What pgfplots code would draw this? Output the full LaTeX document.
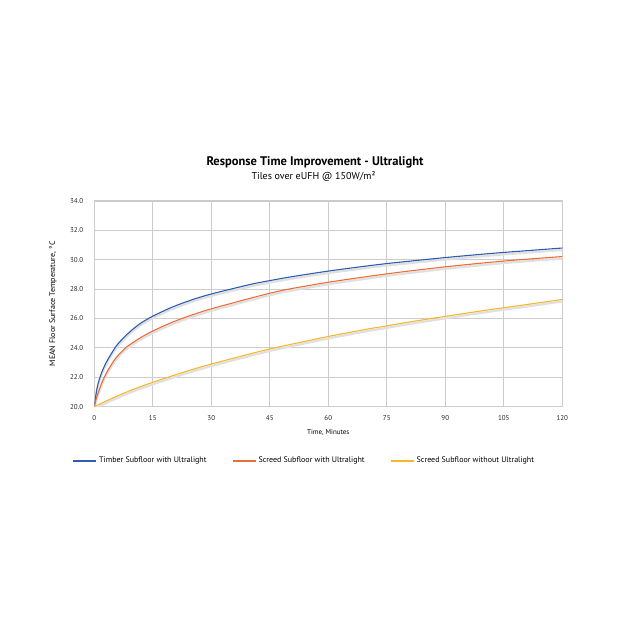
\documentclass[border=0pt]{standalone}
\usepackage{fontspec}
\setmainfont{PT Sans}
\usepackage{pgfplots}
\usepackage{pgfplotstable}
\pgfplotsset{compat=1.18}
\definecolor{gridgray}{HTML}{CCCCCC}
\definecolor{cblue}{HTML}{2F5CAF}
\definecolor{corange}{HTML}{EC6E36}
\definecolor{cyellow}{HTML}{F8B62C}
\definecolor{shadowgray}{HTML}{E0E0E0}
\pgfplotstableread{
t b o y
0 20 20 20
0.5 20.95 20.55 20.07
1 21.6 20.95 20.13
2 22.4 21.68 20.26
3 22.98 22.24 20.38
4 23.45 22.7 20.5
5 23.88 23.12 20.62
6 24.26 23.46 20.74
8 24.82 24.0 20.97
10 25.3 24.38 21.18
12 25.7 24.72 21.38
15 26.16 25.15 21.66
20 26.78 25.75 22.1
25 27.27 26.24 22.52
30 27.67 26.66 22.9
40 28.32 27.38 23.6
45 28.58 27.72 23.93
50 28.82 28.01 24.22
60 29.23 28.47 24.78
70 29.58 28.86 25.28
75 29.74 29.04 25.5
80 29.88 29.21 25.73
90 30.15 29.52 26.15
100 30.39 29.79 26.55
105 30.5 29.91 26.74
110 30.6 30.02 26.92
120 30.8 30.22 27.3
}\datatable
\begin{document}
\begin{tikzpicture}
\path[use as bounding box] (-94.3pt,-213.3pt) rectangle (525.7pt,406.7pt);
\node[anchor=base, font=\fontsize{12.5}{14}\selectfont\bfseries] at (220.7pt,241.2pt) {Response Time Improvement - Ultralight};
\node[anchor=base, font=\fontsize{10}{11}\selectfont] at (219.2pt,226.7pt) {Tiles over eUFH @ 150W/m²};
\begin{axis}[
  at={(0,0)}, anchor=south west,
  scale only axis, width=468pt, height=205.7pt,
  xmin=0, xmax=120, ymin=20, ymax=34,
  xtick={0,15,...,120}, ytick={20,22,...,34},
  grid=major, grid style={gridgray, line width=1.1pt},
  axis line style={gridgray, line width=1.1pt},
  major tick length=0pt,
  /pgf/number format/assume math mode=true,
  yticklabel style={/pgf/number format/fixed, /pgf/number format/precision=1, /pgf/number format/fixed zerofill, inner sep=0pt, xshift=-11pt},
  xticklabel style={inner sep=0pt, yshift=-9pt},
  tick label style={font=\fontsize{7}{8}\selectfont, text=black!85},
  xlabel={Time, Minutes},
  xlabel style={at={(axis description cs:0.5,-0.128)}, anchor=center, font=\fontsize{7}{8}\selectfont},
  ylabel={MEAN Floor Surface Temperature, °C},
  ylabel style={at={(axis description cs:-0.088,0.5)}, anchor=center, rotate=0, font=\fontsize{8}{9}\selectfont},
  legend style={at={(axis description cs:-0.0476,-0.2625)}, anchor=west, draw=none, fill=none, inner sep=0pt,
    font=\fontsize{8}{9}\selectfont, /tikz/every even column/.append style={column sep=23pt}},
  legend columns=3,
  legend cell align=left,
  legend image code/.code={\draw[#1, line width=2pt] (0pt,0pt) -- (23pt,0pt);},
]
\addplot[shadowgray, line width=2.2pt, yshift=-2pt, smooth, forget plot] table[x=t,y=b] {\datatable};
\addplot[shadowgray, line width=2.2pt, yshift=-2pt, smooth, forget plot] table[x=t,y=o] {\datatable};
\addplot[shadowgray, line width=2.2pt, yshift=-2pt, smooth, forget plot] table[x=t,y=y] {\datatable};
\addplot[cblue, line width=1.1pt, smooth] table[x=t,y=b] {\datatable};
\addlegendentry{Timber Subfloor with Ultralight}
\addplot[corange, line width=1.1pt, smooth] table[x=t,y=o] {\datatable};
\addlegendentry{Screed Subfloor with Ultralight}
\addplot[cyellow, line width=1.1pt, smooth] table[x=t,y=y] {\datatable};
\addlegendentry{Screed Subfloor without Ultralight}
\end{axis}
\end{tikzpicture}
\end{document}
